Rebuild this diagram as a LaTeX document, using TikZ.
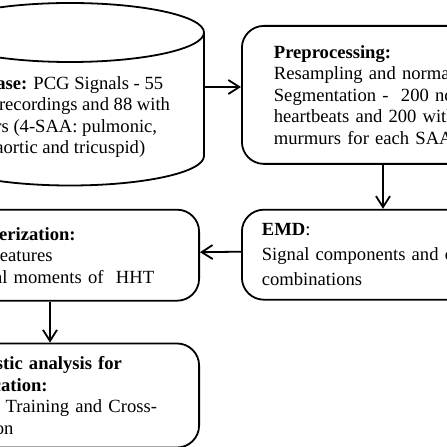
\documentclass[tikz,border=0pt]{standalone}
\usepackage{fontspec}
\setmainfont{Liberation Serif}
\usetikzlibrary{arrows.meta,positioning}

\begin{document}
\begin{tikzpicture}[
    x=1pt, y=1pt,
    txt/.style={
      font=\fontsize{18.6}{21.5}\selectfont
    },
    stage/.style={
      txt,
      rectangle,
      draw=black,
      line width=1.8pt,
      rounded corners=22pt,
      align=left,
      inner ysep=0pt
    },
    arrow/.style={
      -{Straight Barb[length=11pt,width=14pt]},
      line width=1.8pt
    }
  ]
    \useasboundingbox (0,0) rectangle (447,447);
    \clip (0,0) rectangle (447,447);

    % Database cylinder
    \draw[line width=1.8pt] (70,414.5) ellipse [x radius=134pt, y radius=29.5pt];
    \draw[line width=1.8pt] (-64,414.5) -- (-64,291)
      arc[start angle=180, end angle=360, x radius=134pt, y radius=29.5pt] -- (204,414.5);
    \node[txt, align=left, inner xsep=0pt, anchor=west] (db) at (-58.5,330)
      {\hspace*{6pt}\textbf{Database:} PCG Signals - 55\\normal recordings and 88 with\\murmurs (4-SAA: pulmonic,\\mitral, aortic and tricuspid)};
    \coordinate (dbedge) at (204,360);

    % Processing stages
    \node[stage, anchor=north west, text width=240pt, inner xsep=32pt, minimum height=138pt]
      (prep) at (241,422) {\textbf{Preprocessing:}\\Resampling and normalization\\Segmentation -~ 200 normal\\heartbeats and 200 with\\murmurs for each SAA};
    \node[stage, below=44pt of prep.south west, anchor=north west, text width=340pt, inner xsep=20pt, minimum height=90pt,
          font=\fontsize{18.6}{25}\selectfont]
      (emd) {\textbf{EMD}:\\Signal components and cumulative\\combinations};
    \node[stage, left=41pt of emd.north west, anchor=north east, text width=245pt, inner xsep=20pt, minimum height=91pt]
      (char) {\textbf{Characterization:}\\Energy features\\Statistical moments of~ HHT};
    \node[stage, below=41pt of char.south east, anchor=north east, text width=240pt, inner xsep=20pt, minimum height=104pt]
      (stat) {\textbf{Diagnostic analysis for}\\\textbf{classification:}\\-- SVM. Training and Cross-\\validation};

    % Connectors
    \draw[arrow] (dbedge) -- (prep.west |- dbedge);
    \draw[arrow] ([xshift=142pt]prep.south west) -- ([xshift=142pt]emd.north west);
    \draw[arrow] ([yshift=3pt]emd.west) -- ([yshift=3pt]char.east);
    \draw[arrow] ([xshift=-150pt]char.south east) -- ([xshift=-150pt]stat.north east);
  \end{tikzpicture}
\end{document}
